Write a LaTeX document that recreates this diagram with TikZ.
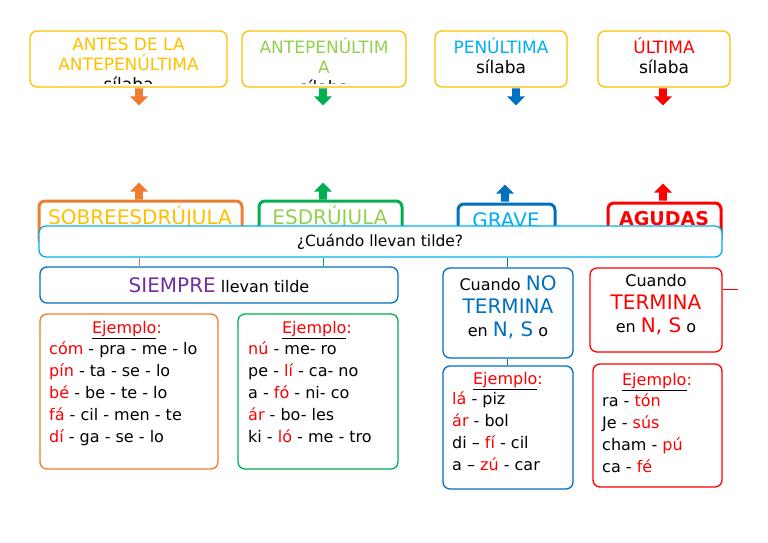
\documentclass[tikz,border=0pt]{standalone}
\usepackage{fontspec}
\setmainfont{DejaVu Sans}
\usetikzlibrary{shapes.arrows}
\definecolor{yel}{HTML}{FFC000}
\definecolor{org}{HTML}{ED7D31}
\definecolor{grn}{HTML}{00B050}
\definecolor{lgr}{HTML}{92D050}
\definecolor{blu}{HTML}{0070C0}
\definecolor{cya}{HTML}{00B0F0}
\definecolor{rd}{HTML}{FF0000}
\definecolor{pur}{HTML}{7030A0}
\newcommand{\rr}[1]{\textcolor{rd}{#1}}
\newcommand{\ej}{\underline{\rr{Ejemplo}}\rr{:}}
\tikzset{bx/.style={rounded corners=7pt,line width=1.3pt,fill=white},
 thk/.style={rounded corners=6pt,line width=3pt,fill=white},
 ln/.style={line width=1pt},
 tx/.style={align=center,font=\fontsize{17}{18}\selectfont,inner sep=0pt},
 ex/.style={align=left,anchor=north west,font=\fontsize{16}{22}\selectfont,inner sep=0pt},
 dn/.style={single arrow,single arrow head extend=3pt,shape border rotate=270,minimum height=17pt,minimum width=18pt,inner sep=2pt,draw=none},
 up/.style={dn,shape border rotate=90}}
\begin{document}
\begin{tikzpicture}[x=1pt,y=-1pt]
\useasboundingbox (0,0) rectangle (768,543);
\foreach \n/\xa/\xb/\txt in {A/30/227/{\textcolor{yel}{ANTES DE LA}\\\textcolor{yel}{ANTEPENÚLTIMA}\\sílaba},B/242/406/{\textcolor{lgr}{ANTEPENÚLTIM}\\\textcolor{lgr}{A}\\sílaba},C/435/567/{\textcolor{cya}{PENÚLTIMA}\\sílaba},D/598/730/{\textcolor{rd}{ÚLTIMA}\\sílaba}}{
 \path[bx,draw=yel] (\xa,31) rectangle (\xb,87);
 \begin{scope}\clip (\xa,31) rectangle (\xb,83);
 \node[tx,anchor=north,font=\fontsize{17}{20}\selectfont] (\n) at ({(\xa+\xb)/2},38) {\txt};
 \end{scope}}
\node[dn,fill=org] (a1) at (139,95) {};
\node[dn,fill=grn] (a2) at (323,95) {};
\node[dn,fill=blu] (a3) at (516,95) {};
\node[dn,fill=rd] (a4) at (663,95) {};
\node[up,fill=org] (u1) at (139,193) {};
\node[up,fill=grn] (u2) at (323,193) {};
\node[up,fill=blu] (u3) at (505,195) {};
\node[up,fill=rd] (u4) at (663,194) {};
\path[thk,draw=org] (39,201) rectangle (242,245);
\node[tx,font=\fontsize{20}{21}\selectfont,text=yel] (s1) at (140,217) {SOBREESDRÚJULA};
\path[thk,draw=grn] (259,201) rectangle (402,245);
\node[tx,font=\fontsize{20}{21}\selectfont,text=lgr] (s2) at (330,217) {ESDRÚJULA};
\path[thk,draw=blu] (458,204) rectangle (555,245);
\node[tx,font=\fontsize{20}{21}\selectfont,text=cya] (s3) at (506,220) {GRAVE};
\path[thk,draw=rd] (608,203) rectangle (721,245);
\node[tx,font=\bfseries\fontsize{19}{20}\selectfont,text=rd] (s4) at (664,219) {AGUDAS};
\path[bx,draw=cya] (39,226) rectangle (722,257);
\node[tx,font=\fontsize{15.5}{17}\selectfont] (q) at (380,241.5) {¿Cuándo llevan tilde?};
\draw[ln,org] (139,258) -- (139,266);
\draw[ln,grn] (323,258) -- (323,266);
\draw[ln,blu] (507,258) -- (507,267);
\draw[ln,blu] (507,359) -- (507,365);
\draw[ln,rd] (723,289) -- (738,289);
\path[bx,draw=blu] (40,267) rectangle (398,303);
\node[tx,font=\fontsize{16}{17}\selectfont] (si) at (219,285) {\textcolor{pur}{\fontsize{20}{21}\selectfont SIEMPRE} llevan tilde};
\path[bx,draw=blu] (443,268) rectangle (573,358);
\begin{scope}\clip (443,268) rectangle (573,344);
\node[tx,anchor=north,font=\fontsize{16}{23}\selectfont] (g) at (508,275) {Cuando \textcolor{blu}{\fontsize{20}{23}\selectfont NO}\\\textcolor{blu}{\fontsize{20}{23}\selectfont TERMINA}\\en \textcolor{blu}{\fontsize{20}{23}\selectfont N, S} o\\vocal};
\end{scope}
\path[bx,draw=rd] (590,268) rectangle (722,352);
\begin{scope}\clip (590,268) rectangle (722,342);
\node[tx,anchor=north,font=\fontsize{16}{23}\selectfont] (ag) at (656,274) {Cuando\\\textcolor{rd}{\fontsize{20}{23}\selectfont TERMINA}\\en \textcolor{rd}{\fontsize{20}{23}\selectfont N, S} o\\vocal};
\end{scope}
\path[bx,draw=org] (40,314) rectangle (218,469);
\node[tx,font=\fontsize{16}{17}\selectfont] (e1h) at (127,330) {\ej};
\node[ex] (e1) at (49,341) {\rr{cóm} - pra - me - lo\\\rr{pín} - ta - se - lo\\\rr{bé} - be - te - lo\\\rr{fá} - cil - men - te\\\rr{dí} - ga - se - lo};
\path[bx,draw=grn] (238,314) rectangle (398,469);
\node[tx,font=\fontsize{16}{17}\selectfont] (e2h) at (317,330) {\ej};
\node[ex] (e2) at (248,341) {\rr{nú} - me- ro\\pe - \rr{lí} - ca- no\\a - \rr{fó} - ni- co\\\rr{ár} - bo- les\\ki - \rr{ló} - me - tro};
\path[bx,draw=blu] (443,366) rectangle (573,489);
\node[tx,font=\fontsize{16}{17}\selectfont] (e3h) at (508,381) {\ej};
\node[ex] (e3) at (452,391) {\rr{lá} - piz\\\rr{ár} - bol\\di – \rr{fí} - cil\\a – \rr{zú} - car};
\path[bx,draw=rd] (593,364) rectangle (722,487);
\node[tx,font=\fontsize{16}{17}\selectfont] (e4h) at (657,382) {\ej};
\node[ex] (e4) at (602,393) {ra - \rr{tón}\\Je - \rr{sús}\\cham - \rr{pú}\\ca - \rr{fé}};
\end{tikzpicture}
\end{document}
